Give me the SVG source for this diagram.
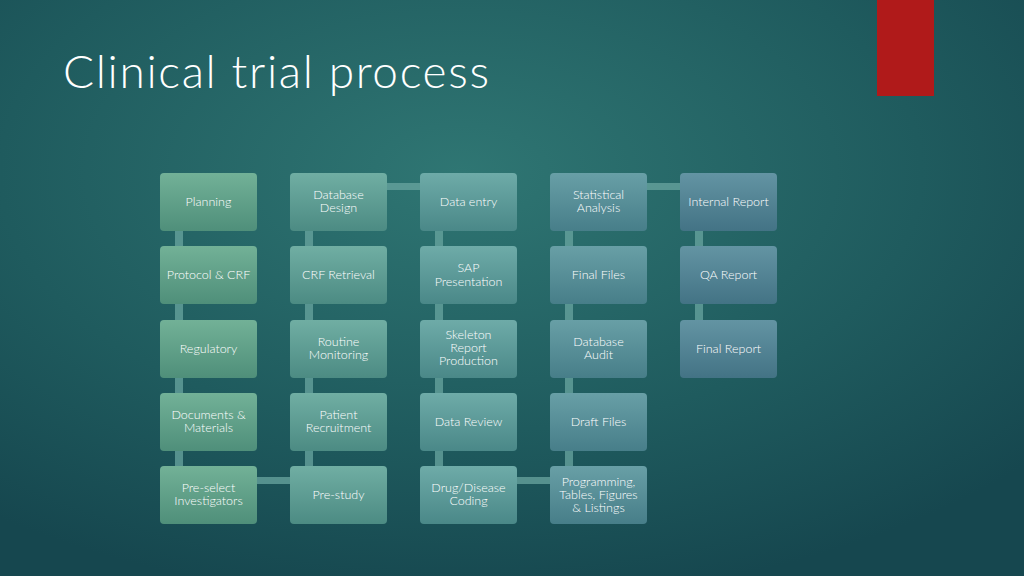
<svg xmlns="http://www.w3.org/2000/svg" width="1024" height="576" viewBox="0 0 1024 576">
<defs>
<radialGradient id="bg" cx="0.45" cy="0.3" r="0.75">
<stop offset="0" stop-color="#2f7673"/>
<stop offset="0.6" stop-color="#1f5b5e"/>
<stop offset="1" stop-color="#16474f"/>
</radialGradient>
<linearGradient id="g1" x1="0" y1="0" x2="0" y2="1"><stop offset="0" stop-color="#72b197"/><stop offset="1" stop-color="#4f8f7a"/></linearGradient>
<linearGradient id="g2" x1="0" y1="0" x2="0" y2="1"><stop offset="0" stop-color="#70aea3"/><stop offset="1" stop-color="#4c8b83"/></linearGradient>
<linearGradient id="g3" x1="0" y1="0" x2="0" y2="1"><stop offset="0" stop-color="#6eaba8"/><stop offset="1" stop-color="#4a8888"/></linearGradient>
<linearGradient id="g4" x1="0" y1="0" x2="0" y2="1"><stop offset="0" stop-color="#689fa6"/><stop offset="1" stop-color="#477e89"/></linearGradient>
<linearGradient id="g5" x1="0" y1="0" x2="0" y2="1"><stop offset="0" stop-color="#6394a3"/><stop offset="1" stop-color="#437385"/></linearGradient>
</defs>
<style>
.t{font-family:Lato,"DejaVu Sans",sans-serif;font-weight:300;font-size:12.5px;fill:#ffffff;text-anchor:middle}
.c1{fill:url(#g1)}.c2{fill:url(#g2)}.c3{fill:url(#g3)}.c4{fill:url(#g4)}.c5{fill:url(#g5)}
.k{fill:#6aa5a0;opacity:0.75}
</style>
<rect width="1024" height="576" fill="url(#bg)"/>
<rect x="877" y="0" width="57" height="96" fill="#b01a1a"/>
<text x="63" y="88" font-family="Lato,'DejaVu Sans',sans-serif" font-weight="300" font-size="46" fill="#ffffff" textLength="426" lengthAdjust="spacing">Clinical trial process</text>
<g id="connectors">
<rect class="k" x="175" y="231" width="8" height="235"/>
<rect class="k" x="305" y="231" width="8" height="235"/>
<rect class="k" x="435" y="231" width="8" height="235"/>
<rect class="k" x="565" y="231" width="8" height="235"/>
<rect class="k" x="695" y="231" width="8" height="89"/>
<rect class="k" x="256" y="477" width="35" height="7"/>
<rect class="k" x="386" y="183" width="35" height="7"/>
<rect class="k" x="516" y="477" width="35" height="7"/>
<rect class="k" x="646" y="183" width="35" height="7"/>
</g>
<g id="n1"><rect class="c1" x="160" y="173" width="97" height="58" rx="4"/><text class="t" x="208.5" y="206">Planning</text></g>
<g id="n2"><rect class="c1" x="160" y="246" width="97" height="58" rx="4"/><text class="t" x="208.5" y="279">Protocol &amp; CRF</text></g>
<g id="n3"><rect class="c1" x="160" y="320" width="97" height="58" rx="4"/><text class="t" x="208.5" y="353">Regulatory</text></g>
<g id="n4"><rect class="c1" x="160" y="393" width="97" height="58" rx="4"/><text class="t" x="208.5" y="419">Documents &amp;</text><text class="t" x="208.5" y="432">Materials</text></g>
<g id="n5"><rect class="c1" x="160" y="466" width="97" height="58" rx="4"/><text class="t" x="208.5" y="492">Pre-select</text><text class="t" x="208.5" y="505">Investigators</text></g>
<g id="n6"><rect class="c2" x="290" y="173" width="97" height="58" rx="4"/><text class="t" x="338.5" y="199">Database</text><text class="t" x="338.5" y="212">Design</text></g>
<g id="n7"><rect class="c2" x="290" y="246" width="97" height="58" rx="4"/><text class="t" x="338.5" y="279">CRF Retrieval</text></g>
<g id="n8"><rect class="c2" x="290" y="320" width="97" height="58" rx="4"/><text class="t" x="338.5" y="346">Routine</text><text class="t" x="338.5" y="359">Monitoring</text></g>
<g id="n9"><rect class="c2" x="290" y="393" width="97" height="58" rx="4"/><text class="t" x="338.5" y="419">Patient</text><text class="t" x="338.5" y="432">Recruitment</text></g>
<g id="n10"><rect class="c2" x="290" y="466" width="97" height="58" rx="4"/><text class="t" x="338.5" y="499">Pre-study</text></g>
<g id="n11"><rect class="c3" x="420" y="173" width="97" height="58" rx="4"/><text class="t" x="468.5" y="206">Data entry</text></g>
<g id="n12"><rect class="c3" x="420" y="246" width="97" height="58" rx="4"/><text class="t" x="468.5" y="272">SAP</text><text class="t" x="468.5" y="286">Presentation</text></g>
<g id="n13"><rect class="c3" x="420" y="320" width="97" height="58" rx="4"/><text class="t" x="468.5" y="339">Skeleton</text><text class="t" x="468.5" y="352">Report</text><text class="t" x="468.5" y="365">Production</text></g>
<g id="n14"><rect class="c3" x="420" y="393" width="97" height="58" rx="4"/><text class="t" x="468.5" y="426">Data Review</text></g>
<g id="n15"><rect class="c3" x="420" y="466" width="97" height="58" rx="4"/><text class="t" x="468.5" y="492">Drug/Disease</text><text class="t" x="468.5" y="505">Coding</text></g>
<g id="n16"><rect class="c4" x="550" y="173" width="97" height="58" rx="4"/><text class="t" x="598.5" y="199">Statistical</text><text class="t" x="598.5" y="212">Analysis</text></g>
<g id="n17"><rect class="c4" x="550" y="246" width="97" height="58" rx="4"/><text class="t" x="598.5" y="279">Final Files</text></g>
<g id="n18"><rect class="c4" x="550" y="320" width="97" height="58" rx="4"/><text class="t" x="598.5" y="346">Database</text><text class="t" x="598.5" y="359">Audit</text></g>
<g id="n19"><rect class="c4" x="550" y="393" width="97" height="58" rx="4"/><text class="t" x="598.5" y="426">Draft Files</text></g>
<g id="n20"><rect class="c4" x="550" y="466" width="97" height="58" rx="4"/><text class="t" x="598.5" y="486">Programming,</text><text class="t" x="598.5" y="499">Tables, Figures</text><text class="t" x="598.5" y="512">&amp; Listings</text></g>
<g id="n21"><rect class="c5" x="680" y="173" width="97" height="58" rx="4"/><text class="t" x="728.5" y="206">Internal Report</text></g>
<g id="n22"><rect class="c5" x="680" y="246" width="97" height="58" rx="4"/><text class="t" x="728.5" y="279">QA Report</text></g>
<g id="n23"><rect class="c5" x="680" y="320" width="97" height="58" rx="4"/><text class="t" x="728.5" y="353">Final Report</text></g>
</svg>
